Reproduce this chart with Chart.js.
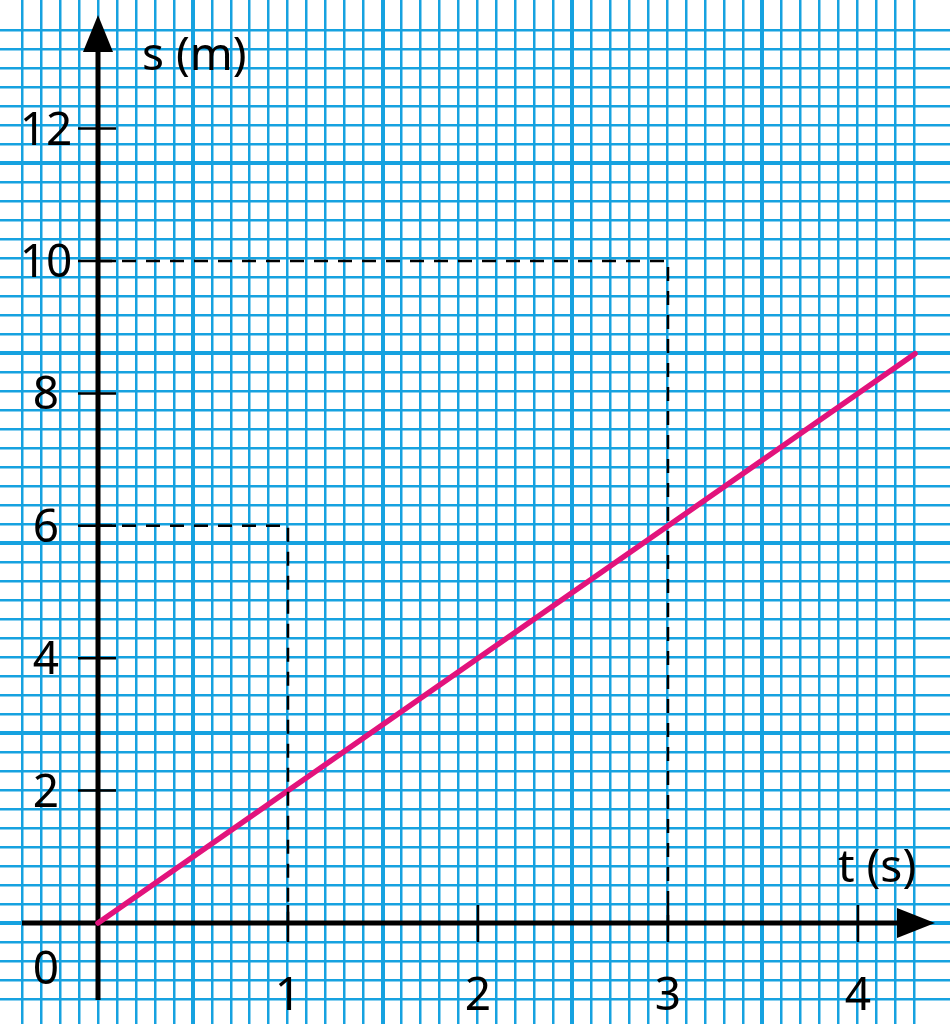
<!DOCTYPE html>
<html>
<head>
<meta charset="utf-8">
<script src="https://cdn.jsdelivr.net/npm/chart.js@4.4.1/dist/chart.umd.min.js"></script>
<style>
  html, body { margin: 0; padding: 0; background: #fff; }
  #wrap { width: 950px; height: 1024px; position: relative; }
</style>
</head>
<body>
<div id="wrap"><canvas id="graph"></canvas></div>
<script>
"use strict";

// values
const lineT = [0, 4.3];
const lineS = [0, 8.6];
const guideT = [1, 3];
const guideS = [6, 10];
const tTicks = [1, 2, 3, 4];
const sTicks = [2, 4, 6, 8, 10, 12];
const originLabel = "0";
const tTitle = "t (s)";
const sTitle = "s (m)";

const paperBlue = "#16a2e0";
const inkPink = "#e2137c";
const labelFont = '46px "Noto Sans"';

function isThick(v, rest) {
  const k = ((Math.round(v) % 10) + 10) % 10;
  return k === rest;
}

// paper lines only on whole squares
function keepWhole(scale) {
  scale.ticks = scale.ticks.filter(t => Math.abs(t.value - Math.round(t.value)) < 1e-6);
}

const paperAxes = {
  id: "paperAxes",
  beforeDatasetsDraw(chart) {
    const ctx = chart.ctx;
    const x = chart.scales.x;
    const y = chart.scales.y;
    const area = chart.chartArea;
    const x0 = x.getPixelForValue(0);
    const y0 = y.getPixelForValue(0);

    function seg(ax, ay, bx, by) {
      ctx.beginPath();
      ctx.moveTo(ax, ay);
      ctx.lineTo(bx, by);
      ctx.stroke();
    }

    ctx.save();
    ctx.strokeStyle = "#000";
    ctx.fillStyle = "#000";

    // tick marks
    ctx.lineWidth = 2.5;
    sTicks.forEach(v => {
      const py = y.getPixelForValue(v);
      seg(x0 - 20, py, x0 + 18, py);
    });
    tTicks.forEach(v => {
      const px = x.getPixelForValue(v);
      seg(px, y0 - 18, px, y0 + 19);
    });

    // axes
    ctx.lineWidth = 5;
    seg(x0, area.bottom - 24, x0, area.top + 45);
    seg(area.left + 22, y0, area.right - 50, y0);

    // arrow heads
    ctx.beginPath();
    ctx.moveTo(x0, area.top + 15);
    ctx.lineTo(x0 + 15, area.top + 52);
    ctx.lineTo(x0 - 15, area.top + 52);
    ctx.closePath();
    ctx.fill();
    ctx.beginPath();
    ctx.moveTo(area.right - 15, y0);
    ctx.lineTo(area.right - 53, y0 - 15);
    ctx.lineTo(area.right - 53, y0 + 15);
    ctx.closePath();
    ctx.fill();

    // labels
    ctx.font = labelFont;
    ctx.textBaseline = "alphabetic";
    ctx.textAlign = "center";
    sTicks.forEach(v => {
      ctx.fillText(String(v), x0 - 52, y.getPixelForValue(v) + 16);
    });
    tTicks.forEach(v => {
      ctx.fillText(String(v), x.getPixelForValue(v), y0 + 87);
    });
    ctx.fillText(originLabel, x0 - 52, y0 + 61);

    ctx.textAlign = "left";
    ctx.fillText(sTitle, x0 + 44, area.top + 70);
    ctx.fillText(tTitle, area.right - 112, y0 - 41);
    ctx.restore();
  }
};

const guideSets = guideT.map((t, i) => ({
  data: [{ x: 0, y: guideS[i] }, { x: t, y: guideS[i] }, { x: t, y: 0 }],
  borderColor: "#000",
  borderWidth: 2.5,
  borderDash: [14, 10],
  pointRadius: 0,
  fill: false
}));

const ctx = document.getElementById("graph").getContext("2d");

const graph = new Chart(ctx, {
  type: "line",
  data: {
    datasets: [
      ...guideSets,
      {
        data: lineT.map((t, i) => ({ x: t, y: lineS[i] })),
        borderColor: inkPink,
        borderWidth: 5.5,
        borderCapStyle: "round",
        pointRadius: 0,
        fill: false
      }
    ]
  },
  options: {
    responsive: true,
    maintainAspectRatio: false,
    animation: false,
    layout: { padding: 0 },
    plugins: {
      legend: { display: false },
      tooltip: { enabled: false }
    },
    scales: {
      x: { type: "linear", display: false, min: -98 / 190, max: 852 / 190 },
      y: { type: "linear", display: false, min: -101 / 66.2, max: 923 / 66.2 },
      // range kept off a whole number of squares so ticks land on integers
      gx: {
        type: "linear",
        axis: "x",
        position: "top",
        min: -98 / 19,
        max: 853 / 19,
        afterBuildTicks: keepWhole,
        ticks: { display: false, stepSize: 1, autoSkip: false },
        border: { display: false },
        grid: {
          drawTicks: false,
          color: paperBlue,
          lineWidth: c => (isThick(c.tick.value, 5) ? 4 : 2.5)
        }
      },
      gy: {
        type: "linear",
        axis: "y",
        position: "left",
        min: -101 / 19,
        max: 923 / 19,
        afterBuildTicks: keepWhole,
        ticks: { display: false, stepSize: 1, autoSkip: false },
        border: { display: false },
        grid: {
          drawTicks: false,
          color: paperBlue,
          lineWidth: c => (isThick(c.tick.value, 0) ? 4 : 2.5)
        }
      }
    }
  },
  plugins: [paperAxes]
});
</script>
</body>
</html>
